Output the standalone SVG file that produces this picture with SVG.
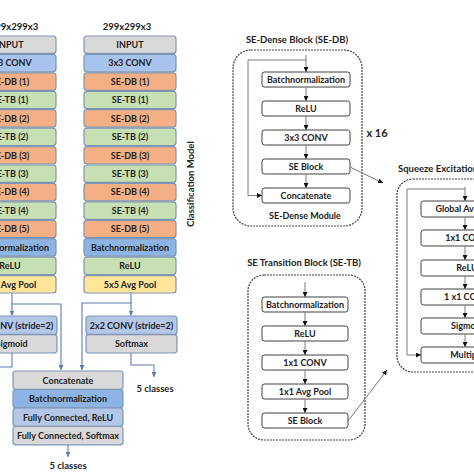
<svg xmlns="http://www.w3.org/2000/svg" width="474" height="474" viewBox="0 0 474 474">
<defs>
<style>
text{font-family:Lato,"Liberation Sans",sans-serif;font-weight:bold;font-size:9px;fill:#222;text-anchor:middle}
.t{font-size:9.5px}
.b{stroke:#7f95b5;stroke-width:1.2}
.gray{fill:#d9d9d9}.conv{fill:#a8c4ec}.db{fill:#f4b084}.tb{fill:#c6e0b4}.bn{fill:#8eb4e3}.yel{fill:#ffe69a}.lb{fill:#b4c7e7}
.w{fill:#fff;stroke:#404040;stroke-width:1}
.dash{fill:none;stroke:#404040;stroke-width:1.2;stroke-dasharray:2 1}
.lc{fill:none;stroke:#5a7bb0;stroke-width:1.1}
.rc{fill:none;stroke:#7a7a7a;stroke-width:1}
</style>
<marker id="ab" viewBox="0 0 6 6" refX="6" refY="3" markerWidth="5" markerHeight="5" markerUnits="userSpaceOnUse" orient="auto"><path d="M0,0L6,3L0,6z" fill="#5a7bb0"/></marker>
<marker id="ak" viewBox="0 0 6 6" refX="6" refY="3" markerWidth="5" markerHeight="5" markerUnits="userSpaceOnUse" orient="auto"><path d="M0,0L6,3L0,6z" fill="#111"/></marker>
</defs>

<text class="t" x="14" y="30">299x299x3</text>
<text class="t" x="127" y="30">299x299x3</text>

<g id="left-column">
<rect class="b gray" x="-36" y="36" width="92" height="17.4" rx="3"/><text x="10" y="48">INPUT</text>
<rect class="b conv" x="-36" y="54.4" width="92" height="17.4" rx="3"/><text x="10" y="66.4">3x3 CONV</text>
<rect class="b db" x="-36" y="72.9" width="92" height="17.4" rx="3"/><text x="10" y="84.9">SE-DB  (1)</text>
<rect class="b tb" x="-36" y="91.3" width="92" height="17.4" rx="3"/><text x="10" y="103.3">SE-TB  (1)</text>
<rect class="b db" x="-36" y="109.7" width="92" height="17.4" rx="3"/><text x="10" y="121.7">SE-DB  (2)</text>
<rect class="b tb" x="-36" y="128.2" width="92" height="17.4" rx="3"/><text x="10" y="140.2">SE-TB (2)</text>
<rect class="b db" x="-36" y="146.6" width="92" height="17.4" rx="3"/><text x="10" y="158.6">SE-DB (3)</text>
<rect class="b tb" x="-36" y="165" width="92" height="17.4" rx="3"/><text x="10" y="177">SE-TB (3)</text>
<rect class="b db" x="-36" y="183.4" width="92" height="17.4" rx="3"/><text x="10" y="195.4">SE-DB (4)</text>
<rect class="b tb" x="-36" y="201.9" width="92" height="17.4" rx="3"/><text x="10" y="213.9">SE-TB  (4)</text>
<rect class="b db" x="-36" y="220.3" width="92" height="17.4" rx="3"/><text x="10" y="232.3">SE-DB (5)</text>
<rect class="b bn" x="-36" y="238.7" width="92" height="17.4" rx="3"/><text x="10" y="250.7">Batchnormalization</text>
<rect class="b tb" x="-36" y="257.2" width="92" height="17.4" rx="3"/><text x="10" y="269.2">ReLU</text>
<rect class="b yel" x="-36" y="275.6" width="92" height="17.4" rx="3"/><text x="10" y="287.6">5x5 Avg Pool</text>
</g>

<g id="right-column">
<rect class="b gray" x="84" y="36" width="92" height="17.4" rx="3"/><text x="130" y="48">INPUT</text>
<rect class="b conv" x="84" y="54.4" width="92" height="17.4" rx="3"/><text x="130" y="66.4">3x3 CONV</text>
<rect class="b db" x="84" y="72.9" width="92" height="17.4" rx="3"/><text x="130" y="84.9">SE-DB  (1)</text>
<rect class="b tb" x="84" y="91.3" width="92" height="17.4" rx="3"/><text x="130" y="103.3">SE-TB  (1)</text>
<rect class="b db" x="84" y="109.7" width="92" height="17.4" rx="3"/><text x="130" y="121.7">SE-DB  (2)</text>
<rect class="b tb" x="84" y="128.2" width="92" height="17.4" rx="3"/><text x="130" y="140.2">SE-TB (2)</text>
<rect class="b db" x="84" y="146.6" width="92" height="17.4" rx="3"/><text x="130" y="158.6">SE-DB (3)</text>
<rect class="b tb" x="84" y="165" width="92" height="17.4" rx="3"/><text x="130" y="177">SE-TB (3)</text>
<rect class="b db" x="84" y="183.4" width="92" height="17.4" rx="3"/><text x="130" y="195.4">SE-DB (4)</text>
<rect class="b tb" x="84" y="201.9" width="92" height="17.4" rx="3"/><text x="130" y="213.9">SE-TB  (4)</text>
<rect class="b db" x="84" y="220.3" width="92" height="17.4" rx="3"/><text x="130" y="232.3">SE-DB (5)</text>
<rect class="b bn" x="84" y="238.7" width="92" height="17.4" rx="3"/><text x="130" y="250.7">Batchnormalization</text>
<rect class="b tb" x="84" y="257.2" width="92" height="17.4" rx="3"/><text x="130" y="269.2">ReLU</text>
<rect class="b yel" x="84" y="275.6" width="92" height="17.4" rx="3"/><text x="130" y="287.6">5x5 Avg Pool</text>
</g>

<text class="t" transform="translate(194,184) rotate(-90)">Classification Model</text>

<g id="left-head">
<rect class="b lb" x="-34" y="316" width="91" height="18.4" rx="3"/><text x="11.5" y="328.5">2x2 CONV (stride=2)</text>
<rect class="b gray" x="-34" y="334.6" width="91" height="18.4" rx="3"/><text x="11.5" y="347">Sigmoid</text>
</g>
<g id="right-head">
<rect class="b lb" x="86" y="316" width="91" height="18.4" rx="3"/><text x="131.5" y="328.5">2x2 CONV (stride=2)</text>
<rect class="b gray" x="86" y="334.6" width="91" height="18.4" rx="3"/><text x="131.5" y="347">Softmax</text>
</g>
<g id="fusion-head">
<rect class="b gray" x="13" y="371" width="110" height="18.3" rx="3"/><text x="68" y="383.5">Concatenate</text>
<rect class="b bn" x="13" y="389.5" width="110" height="18.3" rx="3"/><text x="68" y="402">Batchnormalization</text>
<rect class="b lb" x="13" y="408" width="110" height="18.3" rx="3"/><text x="68" y="420.5">Fully Connected, ReLU</text>
<rect class="b gray" x="13" y="426.5" width="110" height="18.3" rx="3"/><text x="68" y="439">Fully Connected, Softmax</text>
</g>
<text class="t" x="155" y="392">5 classes</text>
<text class="t" x="68" y="469">5 classes</text>

<g id="se-db">
<text class="t" x="297" y="43">SE-Dense Block (SE-DB)</text>
<rect class="dash" x="233" y="50" width="129" height="176" rx="18"/>
<rect class="w" x="262" y="72" width="88" height="15" rx="2.5"/><text x="306" y="82.5">Batchnormalization</text>
<rect class="w" x="262" y="101" width="88" height="15" rx="2.5"/><text x="306" y="111.5">ReLU</text>
<rect class="w" x="262" y="130" width="88" height="15" rx="2.5"/><text x="306" y="140.5">3x3 CONV</text>
<rect class="w" x="262" y="159" width="88" height="15" rx="2.5"/><text x="306" y="169.5">SE Block</text>
<rect class="w" x="262" y="188" width="88" height="15" rx="2.5"/><text x="306" y="198.5">Concatenate</text>
<text x="305" y="219">SE-Dense Module</text>
</g>
<text x="377" y="137" style="font-size:11px">x 16</text>

<g id="se-tb">
<text class="t" x="304" y="266">SE Transition Block (SE-TB)</text>
<rect class="dash" x="248" y="275" width="117" height="165" rx="16"/>
<rect class="w" x="262" y="297" width="86" height="15" rx="2.5"/><text x="305" y="307.5">Batchnormalization</text>
<rect class="w" x="262" y="326" width="86" height="15" rx="2.5"/><text x="305" y="336.5">ReLU</text>
<rect class="w" x="262" y="355" width="86" height="15" rx="2.5"/><text x="305" y="365.5">1x1 CONV</text>
<rect class="w" x="262" y="384" width="86" height="15" rx="2.5"/><text x="305" y="394.5">1x1 Avg Pool</text>
<rect class="w" x="262" y="413" width="86" height="15" rx="2.5"/><text x="305" y="423.5">SE Block</text>
</g>

<g id="se">
<text class="t" x="398" y="172" style="text-anchor:start">Squeeze Excitation</text>
<rect class="dash" x="397" y="179" width="120" height="193" rx="16"/>
<rect class="w" x="421" y="201" width="92" height="16" rx="2.5"/><text x="467" y="212">Global Avg Pool</text>
<rect class="w" x="421" y="230" width="92" height="16" rx="2.5"/><text x="467" y="241">1x1 CONV</text>
<rect class="w" x="421" y="260" width="92" height="16" rx="2.5"/><text x="467" y="271">ReLU</text>
<rect class="w" x="421" y="289" width="92" height="16" rx="2.5"/><text x="467" y="300">1 x1 CONV</text>
<rect class="w" x="421" y="318" width="92" height="16" rx="2.5"/><text x="467" y="329">Sigmoid</text>
<rect class="w" x="421" y="347" width="92" height="16" rx="2.5"/><text x="467" y="358">Multiply</text>
</g>

<g id="connectors">
<path class="lc" d="M12,293V304H61V370" marker-end="url(#ab)"/>
<path class="lc" d="M12,304V315.5" marker-end="url(#ab)"/>
<path class="lc" d="M12,353V367H-5"/>
<path class="lc" d="M131,293V303H82V370" marker-end="url(#ab)"/>
<path class="lc" d="M131,303V315.5" marker-end="url(#ab)"/>
<path class="lc" d="M131,353V365H154V377" marker-end="url(#ab)"/>
<path class="lc" d="M68,445V457" marker-end="url(#ab)"/>

<path class="rc" d="M306,55V72" marker-end="url(#ak)"/>
<path class="rc" d="M306,87V101" marker-end="url(#ak)"/>
<path class="rc" d="M306,116V130" marker-end="url(#ak)"/>
<path class="rc" d="M306,145V159" marker-end="url(#ak)"/>
<path class="rc" d="M306,174V188" marker-end="url(#ak)"/>
<path class="rc" d="M306,60H248V195.5H262" marker-end="url(#ak)"/>
<path class="rc" d="M350,167L383,183" marker-end="url(#ak)"/>

<path class="rc" d="M305,282V297" marker-end="url(#ak)"/>
<path class="rc" d="M305,312V326" marker-end="url(#ak)"/>
<path class="rc" d="M305,341V355" marker-end="url(#ak)"/>
<path class="rc" d="M305,370V384" marker-end="url(#ak)"/>
<path class="rc" d="M305,399V413" marker-end="url(#ak)"/>
<path class="rc" d="M348,421L387,370" marker-end="url(#ak)"/>

<path class="rc" d="M465,187V201" marker-end="url(#ak)"/>
<path class="rc" d="M465,217V230" marker-end="url(#ak)"/>
<path class="rc" d="M465,246V260" marker-end="url(#ak)"/>
<path class="rc" d="M465,276V289" marker-end="url(#ak)"/>
<path class="rc" d="M465,305V318" marker-end="url(#ak)"/>
<path class="rc" d="M465,334V347" marker-end="url(#ak)"/>
<path class="rc" d="M465,189H407V355H421" marker-end="url(#ak)"/>
</g>
</svg>
